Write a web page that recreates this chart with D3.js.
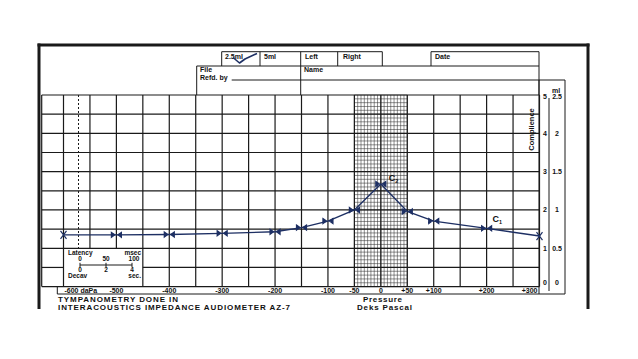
<!DOCTYPE html>
<html><head><meta charset="utf-8">
<script src="https://cdn.jsdelivr.net/npm/d3@7"></script>
<style>html,body{margin:0;padding:0;background:#fff;} svg{display:block;}</style>
</head><body>
<svg id="c" width="638" height="359"></svg>
<script>
// ---------- data ----------
const pressures = [-600, -500, -400, -300, -200, -150, -100, -50, 0, 50, 100, 200, 300];
const compliance = [1.35, 1.35, 1.36, 1.39, 1.43, 1.54, 1.71, 2.0, 2.68, 1.96, 1.71, 1.52, 1.32];
const pressureTicks = [-600, -500, -400, -300, -200, -100, -50, 0, 50, 100, 200, 300];
const pressureTickLabels = ["-600 daPa", "-500", "-400", "-300", "-200", "-100", "-50", "0", "+50", "+100", "+200", "+300"];
const complianceTicks = [0, 1, 2, 3, 4, 5];
const complianceTickLabels = ["0", "1", "2", "3", "4", "5"];
const mlTickLabels = ["0", "0.5", "1", "1.5", "2", "2.5"];
const latencyTicks = [0, 50, 100];
const decayTicks = [0, 2, 4];
const peakLabels = [{p: 0, c: 2.68, t: "C", s: "2"}, {p: 200, c: 1.52, t: "C", s: "1"}];
const headerRow1 = ["2.5ml", "5ml", "Left", "Right", "Date"];

// ---------- layout ----------
const svg = d3.select("#c");
const ink = "#1d2f63";
const line = "#1a1a1a";
const FONT = "'Liberation Sans', Arial, sans-serif";

const x = d3.scaleLinear().domain([-600, 300]).range([63.5, 539.5]);
const y = d3.scaleLinear().domain([0, 5]).range([286.6, 95]);
const gridLeft = 41.7, gridRight = x(300), gridTop = y(5), gridBottom = y(0);

function L(x1, y1, x2, y2, w, col, dash) {
  const l = svg.append("line").attr("x1", x1).attr("y1", y1).attr("x2", x2).attr("y2", y2)
    .attr("stroke", col || line).attr("stroke-width", w || 1.2);
  if (dash) l.attr("stroke-dasharray", dash);
  return l;
}
function T(tx, ty, s, size, anchor, extra) {
  const t = svg.append("text").attr("x", tx).attr("y", ty).text(s)
    .attr("font-family", FONT).attr("font-weight", "bold").attr("font-size", size || 7)
    .attr("text-anchor", anchor || "start").attr("fill", "#111");
  if (extra) extra(t);
  return t;
}

// ---------- outer frame ----------
L(37.5, 45, 589.5, 45, 3);
L(39, 43.5, 39, 309, 3);
L(588, 43.5, 588, 309, 3);

// ---------- header ----------
const hx = [221.7, 260, 300.7, 337.7, 382.3];
L(221.7, 51.7, 382.3, 51.7, 1);
L(431, 51.7, 539, 51.7, 1);
hx.forEach(v => L(v, 51.7, v, 66, 1));
L(431, 51.7, 431, 66, 1);
L(539, 51.7, 539, gridTop, 1);
L(196.7, 66, 539, 66, 1);
L(196.7, 66, 196.7, gridTop, 1);
L(300.7, 66, 300.7, gridTop, 1);
L(231.7, 80, 565, 80, 1);
const hLabX = [225, 264, 305, 343, 435];
headerRow1.forEach((s, i) => T(hLabX[i], 58.5, s, 7));
T(200, 71.5, "File", 7);
T(200, 79.5, "Refd. by", 7);
T(304, 72, "Name", 7);
// check mark
svg.append("path").attr("d", "M233,57.5 L239.5,63 L245,59 L257,53.5")
  .attr("fill", "none").attr("stroke", ink).attr("stroke-width", 1.6).attr("stroke-linejoin", "round");

// ---------- fine grid in the -50..+50 band ----------
const fine = svg.append("g").attr("stroke", "#333").attr("stroke-width", 0.55);
d3.range(-50, 50.01, 6.25).forEach(p =>
  fine.append("line").attr("x1", x(p)).attr("x2", x(p)).attr("y1", gridTop).attr("y2", gridBottom));
d3.range(0, 5.001, 0.1).forEach(c =>
  fine.append("line").attr("x1", x(-50)).attr("x2", x(50)).attr("y1", y(c)).attr("y2", y(c)));

// ---------- main grid ----------
const latBoxRight = x(-450);
d3.range(0, 5.01, 0.5).forEach(c => {
  if (c === 0.5) {
    L(gridLeft, y(c), x(-600), y(c));
    L(latBoxRight, y(c), gridRight, y(c));
  } else {
    L(gridLeft, y(c), gridRight, y(c));
  }
});
L(gridLeft, gridTop, gridLeft, gridBottom);
d3.range(-600, 300.01, 50).forEach(p => {
  const short = (p === -550 || p === -500);
  L(x(p), gridTop, x(p), short ? y(1) : gridBottom);
});
// dashed latency line
L(78.5, gridTop, 78.5, y(1), 1, line, "2,2");

// ---------- latency / decay mini-scale ----------
const lat = d3.scaleLinear().domain([0, 100]).range([80, 132]);
const dec = d3.scaleLinear().domain([0, 4]).range([80, 132]);
T(68, 255, "Latency", 6.5);
T(141, 255, "msec", 6.5, "end");
latencyTicks.forEach(v => T(lat(v) + (v === 100 ? 2 : 0), 261.3, String(v), 6.5, "middle"));
L(lat(0), 265, lat(100), 265, 1);
decayTicks.forEach(v => { L(dec(v), 262.8, dec(v), 267.3, 1); T(dec(v), 272, String(v), 6.5, "middle"); });
T(68, 278, "Decav", 6.5);
T(141, 278, "sec.", 6.5, "end");

// ---------- right-hand compliance scale ----------
L(539, 80, 539, 294, 1);
L(565, 80, 565, 294, 1);
L(549, 98, 549, 291, 1);
T(556, 92.5, "ml", 7, "middle");
complianceTicks.forEach((c, i) => {
  let yy = y(c) + 2.5;
  if (c === 5) yy = y(c) + 4; if (c === 0) yy = y(c) - 1.5;
  T(545, yy, complianceTickLabels[i], 7, "middle");
  T(557, yy, mlTickLabels[i], 7, "middle");
});
T(0, 0, "Complience", 7.5, "middle", t => t.attr("transform", `translate(534,${y(4.1)}) rotate(-90)`));

// ---------- pressure axis row ----------
L(57.3, gridBottom, 57.3, 294, 1);
L(57.3, 294, 565, 294, 1);
pressureTicks.forEach((p, i) => {
  let xx = x(p), a = "middle";
  if (p === -600) { xx = x(p) + 1; a = "start"; }
  if (p === 300) { xx = x(p) - 2; a = "end"; }
  T(xx, 292.8, pressureTickLabels[i], 7, a);
});
T(58, 301.5, "TYMPANOMETRY DONE IN", 8, "start", t => t.attr("textLength", 120));
T(58, 309.5, "INTERACOUSTICS IMPEDANCE AUDIOMETER AZ-7", 8, "start", t => t.attr("textLength", 232));
T(363, 301.5, "Pressure", 8, "start", t => t.attr("textLength", 39));
T(357, 309.5, "Deks Pascal", 8, "start", t => t.attr("textLength", 55));

// ---------- tympanogram curve ----------
const pts = pressures.map((p, i) => [x(p), y(compliance[i])]);
svg.append("path").attr("d", d3.line()(pts)).attr("fill", "none")
  .attr("stroke", ink).attr("stroke-width", 1.4);
const mk = svg.append("g").attr("stroke", ink).attr("stroke-width", 1.2).attr("fill", ink);
pts.forEach(([px, py], i) => {
  if (i === 0 || i === pts.length - 1) {
    mk.append("path").attr("d", `M${px - 3},${py - 4}L${px + 3},${py + 4}M${px - 3},${py + 4}L${px + 3},${py - 4}`).attr("fill", "none");
  } else {
    mk.append("path").attr("d", `M${px - 5},${py - 2.5}L${px - 1.5},${py}L${px - 5},${py + 2.5}Z M${px + 5},${py - 2.5}L${px + 1.5},${py}L${px + 5},${py + 2.5}Z`);
  }
});
peakLabels.forEach(d => {
  const g = svg.append("text").attr("x", x(d.p) + (d.p === 0 ? 8 : 6)).attr("y", y(d.c) - (d.p === 0 ? 3 : 6))
    .attr("font-family", FONT).attr("font-weight", "bold").attr("font-size", 9).attr("fill", "#111").text(d.t);
  g.append("tspan").attr("font-size", 5.5).attr("dy", 2).text(d.s);
});
</script>
</body></html>
